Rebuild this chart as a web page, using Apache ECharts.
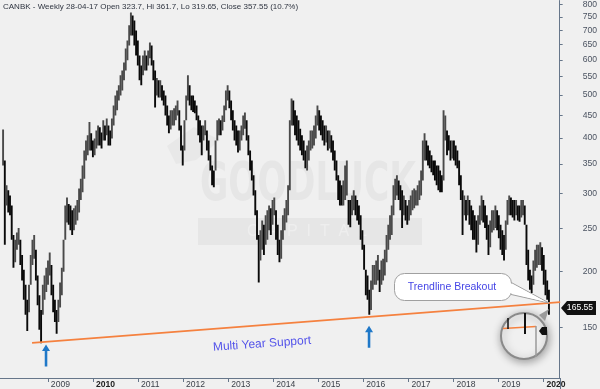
<!DOCTYPE html>
<html>
<head>
<meta charset="utf-8">
<script src="https://cdn.jsdelivr.net/npm/echarts@6/dist/echarts.min.js"></script>
<style>
html,body{margin:0;padding:0;background:#f0f0f0;}
#c{width:600px;height:389px;}
</style>
</head>
<body>
<div id="c"></div>
<script>
// ---- data ----
const title = 'CANBK - Weekly 28-04-17 Open 323.7, Hi 361.7, Lo 319.65, Close 357.55 (10.7%)';
const firstBar = '2008-01-04';   // first bi-weekly bar
const barStepDays = 14;
const hi = [418,356,313,305,297,282,242,236,245,251, 236,218,202,187,173,187,218,236,242,224,
 196,177,164,187,196,204,212,221,207,187, 173,164,173,189,204,236,282,294,284,282,
 275,278,282,290,308,324,347,375,395,406, 435,410,395,399,416,427,423,412,439,427,
 443,427,416,443,474,499,512,526,554,568, 592,637,664,718,767,756,736,699,664,614,
 583,614,630,614,630,657,647,599,568,546, 540,540,526,512,499,474,450,462,462,467,
 474,486,462,427,385,439,499,554,526,499, 499,486,474,450,439,427,427,439,416,395,
 366,347,338,395,439,443,439,450,474,512, 526,512,486,462,439,427,416,416,427,450,
 457,439,406,375,356,330,305,275,242,248, 261,255,268,275,282,278,290,294,275,255,
 236,248,268,278,290,313,439,491,486,462, 450,439,420,406,395,375,385,395,416,416,
 427,450,474,462,450,439,427,427,416,416, 406,395,375,356,330,321,313,321,347,356,
 290,290,297,305,297,290,282,268,248,230, 202,196,182,191,207,207,212,218,202,212,
 214,224,242,255,268,282,313,324,330,321, 313,305,297,290,282,290,297,305,308,305,
 313,321,338,395,410,395,385,375,366,356, 356,347,347,338,330,462,450,416,406,395,
 395,395,385,375,356,330,305,297,290,297, 290,282,275,268,261,268,282,297,290,282,
 268,255,261,275,275,282,275,268,255,248, 242,261,290,297,294,290,290,290,282,282,
 290,290,282,255,224,202,196,212,224,230, 230,233,227,218,202,191,182];
const lo = [347,230,282,272,268,236,204,210,224,230, 207,191,173,160,147,162,187,207,214,191,
 168,148,138,160,173,180,187,196,177,162, 154,145,154,166,177,200,236,258,255,248,
 242,248,255,261,272,290,302,324,356,366, 375,375,362,366,379,385,385,379,395,395,
 406,385,385,399,427,450,462,486,499,512, 540,568,599,647,681,681,647,614,583,540,
 526,554,568,568,583,605,583,540,469,499, 494,494,486,474,450,427,410,418,427,427,
 439,450,416,375,347,375,439,486,474,462, 458,455,439,406,391,366,395,406,375,356,
 338,313,310,338,395,406,406,416,435,462, 486,467,439,416,395,385,371,375,395,406,
 420,395,366,338,321,297,268,236,189,212, 224,218,230,236,248,242,255,268,236,218,
 210,214,236,248,258,268,305,427,427,406, 395,385,375,366,356,342,338,356,375,379,
 385,399,427,416,406,395,385,391,375,379, 371,356,338,321,290,282,282,282,290,297,
 255,252,268,275,268,261,255,236,224,202, 177,173,160,164,182,187,187,191,180,187,
 191,196,210,224,236,242,268,290,297,290, 275,251,268,261,255,261,268,275,278,282,
 282,290,297,321,356,356,347,342,335,330, 321,313,305,302,302,321,395,366,375,356,
 360,356,347,342,313,290,242,268,261,268, 255,248,236,236,221,230,255,261,258,251,
 236,218,227,245,248,251,248,238,224,218, 212,224,255,268,268,265,261,268,261,259,
 265,268,255,207,191,182,179,187,201,204, 207,207,201,187,177,173,160];
const lastClose = 165.55;
const yTicks = [150,200,250,300,350,400,450,500,550,600,650,700,750,800];
const yMinPrice = 115.2, yMaxPrice = 816.6;
const xYears = [2009,2010,2011,2012,2013,2014,2015,2016,2017,2018,2019,2020];
const boldYears = [2010,2020];
const xMin = '2007-12-10', xMax = '2020-05-11';
const trendDates = ['2008-08-26','2020-05-15'];
const trendPrices = [138.2, 170.8];
const supportLows = [['2008-12-17', 137], ['2016-02-17', 151]];
const supportLabel = 'Multi Year Support';
const breakoutLabel = 'Trendline Breakout';

// ---- build ----
const DAY = 86400000;
const ts = s => Date.parse(s + 'T00:00:00Z');
const t0 = ts(firstBar);
const bars = hi.map((h, i) => {
  const mid = (h + lo[i]) / 2;
  const prevMid = i > 0 ? (hi[i-1] + lo[i-1]) / 2 : mid;
  return [t0 + i * barStepDays * DAY, Math.log(lo[i]), Math.log(h), mid >= prevMid ? 1 : 0];
});
const yearTicks = xYears.map(y => Date.UTC(y, 0, 1));

const chart = echarts.init(document.getElementById('c'), null, {renderer: 'canvas'});
const axisColor = '#66768a';
const labelColor = '#4a5260';

const option = {
  animation: false,
  backgroundColor: '#f0f0f0',
  grid: {left: 0, right: 40, top: 0, bottom: 11, containLabel: false},
  xAxis: {
    type: 'value', min: ts(xMin), max: ts(xMax), scale: true,
    axisLine: {show: true, onZero: false, lineStyle: {color: axisColor, width: 1}},
    axisTick: {show: true, length: 4, lineStyle: {color: axisColor}, customValues: yearTicks},
    axisLabel: {
      customValues: yearTicks,
      formatter: v => { const y = new Date(v).getUTCFullYear(); return boldYears.includes(y) ? '{b|' + y + '}' : String(y); },
      align: 'left', margin: 2, padding: [0,0,0,3],
      fontFamily: 'Liberation Sans', fontSize: 8.6, color: '#3a3f48',
      rich: {b: {fontWeight: 'bold', fontFamily: 'Liberation Sans', fontSize: 8.6, color: '#222'}}
    },
    splitLine: {show: false}
  },
  yAxis: {
    type: 'value', position: 'right', min: Math.log(yMinPrice), max: Math.log(yMaxPrice), scale: true,
    axisLine: {show: true, onZero: false, lineStyle: {color: axisColor, width: 1}},
    axisTick: {show: true, length: 3, lineStyle: {color: axisColor}, customValues: yTicks.map(Math.log)},
    axisLabel: {
      customValues: yTicks.map(Math.log),
      formatter: v => String(Math.round(Math.exp(v))),
      margin: 23, align: 'left',
      fontFamily: 'Liberation Sans', fontSize: 8.6, color: labelColor
    },
    splitLine: {show: false}
  },
  series: [
    {
      type: 'custom', name: 'CANBK', clip: true, z: 3,
      encode: {x: 0, y: [1, 2]},
      data: bars,
      renderItem: (params, api) => {
        const x = api.value(0);
        const p1 = api.coord([x, api.value(1)]);
        const p2 = api.coord([x, api.value(2)]);
        return {type: 'line', shape: {x1: p1[0], y1: p1[1], x2: p2[0], y2: p2[1]},
          style: {stroke: api.value(3) ? '#4a4a4a' : '#0a0a0a', lineWidth: 1.9}};
      }
    },
    {
      type: 'line', name: 'trend', z: 4, symbol: 'none', clip: true,
      data: trendDates.map((d, i) => [ts(d), Math.log(trendPrices[i])]),
      lineStyle: {color: '#f5813f', width: 1.6},
      markPoint: {
        symbol: 'path://M5,0 L10,7 L6.6,7 L6.6,24 L3.4,24 L3.4,7 L0,7 Z',
        symbolSize: [8, 22], symbolOffset: [0, '50%'],
        itemStyle: {color: '#1f78c8'}, label: {show: false},
        data: supportLows.map(p => ({coord: [ts(p[0]), Math.log(p[1])]}))
      }
    }
  ]
};
chart.setOption(option);

const yClose = chart.convertToPixel({yAxisIndex: 0}, Math.log(lastClose));
const gx = 560;
const graphic = [
  // watermark
  {type: 'polygon', z: 0, shape: {points: [[167,146],[194,127],[220,140],[196,160],[176,164]]}, style: {fill: '#e8e8e8'}},
  {type: 'text', z: 0, x: 308, y: 186, scaleX: 0.65, style: {text: 'GOODLUCK', fontFamily: 'DejaVu Sans', fontWeight: 'bold', fontSize: 53, fill: '#e6e6e6', align: 'center', verticalAlign: 'middle'}},
  {type: 'rect', z: 0, shape: {x: 198, y: 218, width: 224, height: 27}, style: {fill: '#e6e6e6'}},
  {type: 'text', z: 0, x: 307, y: 232, style: {text: 'C  A  P  I  T  A  L', fontFamily: 'Liberation Sans', fontSize: 16, fill: '#eeeeee', align: 'center', verticalAlign: 'middle'}},
  // title
  {type: 'text', z: 10, x: 3, y: 7, style: {text: title, fontFamily: 'Liberation Sans', fontSize: 8, fill: '#2e3440', align: 'left', verticalAlign: 'middle'}},
  // right axis extension below x-axis
  {type: 'line', z: 10, shape: {x1: gx + 0.5, y1: 378, x2: gx + 0.5, y2: 389}, style: {stroke: axisColor, lineWidth: 1}},
  // last close tag
  {type: 'polygon', z: 10, shape: {points: [[gx + 1, yClose], [gx + 7, yClose - 7], [596, yClose - 7], [596, yClose + 7], [gx + 7, yClose + 7]]}, style: {fill: '#111'}},
  {type: 'text', z: 11, x: 580, y: yClose, style: {text: lastClose.toFixed(2), fontFamily: 'Liberation Sans', fontSize: 8.6, fill: '#fff', align: 'center', verticalAlign: 'middle'}},
  // support label
  {type: 'text', z: 10, x: 262, y: 344, rotation: 0.07, style: {text: supportLabel, fontFamily: 'Liberation Sans', fontSize: 12, fill: '#5454ea', align: 'center', verticalAlign: 'middle'}},
  // breakout callout: tail, box, junction cover
  {type: 'polygon', z: 10, shape: {points: [[503,278],[549,303],[509,294]]}, style: {fill: '#ffffff', stroke: '#a0a0a0', lineWidth: 1}},
  {type: 'rect', z: 11, shape: {x: 394.5, y: 273.5, width: 117, height: 27, r: 10}, style: {fill: '#ffffff', stroke: '#a0a0a0', lineWidth: 1}},
  {type: 'polygon', z: 12, shape: {points: [[503.5,279.5],[546,302],[508.5,292.5],[505,290]]}, style: {fill: '#ffffff'}},
  {type: 'text', z: 13, x: 452, y: 287, style: {text: breakoutLabel, fontFamily: 'Liberation Sans', fontSize: 10.5, fill: '#4646e6', align: 'center', verticalAlign: 'middle'}},
  // magnifier
  {type: 'circle', z: 10, shape: {cx: 524, cy: 336, r: 23}, style: {fill: '#f0f0f0', stroke: '#8a8a8a', lineWidth: 2, shadowBlur: 8, shadowColor: 'rgba(0,0,0,0.35)', shadowOffsetX: 1, shadowOffsetY: 2}},
  {type: 'polygon', z: 10, shape: {points: [[539,315],[549,309],[545,321]]}, style: {fill: '#9a9a9a'}},
  {type: 'line', z: 11, shape: {x1: 503, y1: 328.5, x2: 536, y2: 326.5}, style: {stroke: '#f5813f', lineWidth: 1.5}},
  {type: 'line', z: 11, shape: {x1: 508, y1: 318, x2: 508, y2: 329}, style: {stroke: '#111', lineWidth: 1.5}},
  {type: 'line', z: 11, shape: {x1: 525, y1: 313, x2: 525, y2: 334}, style: {stroke: '#111', lineWidth: 2}},
  {type: 'line', z: 11, shape: {x1: 536, y1: 326, x2: 536, y2: 357}, style: {stroke: '#9a9a9a', lineWidth: 1.5}},
  {type: 'polygon', z: 11, shape: {points: [[539,331],[542,327],[547,327],[547,335],[542,335]]}, style: {fill: '#111'}}
];
chart.setOption({graphic: graphic});
</script>
</body>
</html>
